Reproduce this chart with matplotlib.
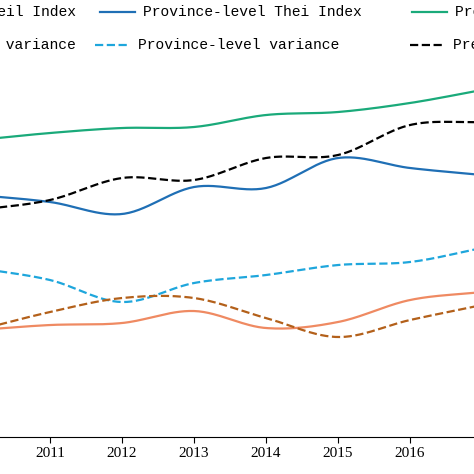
import numpy as np
import matplotlib
matplotlib.use("Agg")
import matplotlib.pyplot as plt
from matplotlib.lines import Line2D

years = [2010, 2011, 2012, 2013, 2014, 2015, 2016, 2017]
tick_years = [2011, 2012, 2013, 2014, 2015, 2016]
green = [2.97, 3.04, 3.09, 3.10, 3.22, 3.25, 3.34, 3.47]
blue = [2.42, 2.35, 2.23, 2.50, 2.49, 2.79, 2.69, 2.62]
black = [2.27, 2.37, 2.59, 2.57, 2.79, 2.82, 3.12, 3.15]
lblue = [1.69, 1.57, 1.35, 1.54, 1.62, 1.72, 1.75, 1.89]
orange = [1.07, 1.12, 1.14, 1.26, 1.09, 1.15, 1.37, 1.45]
brown = [1.07, 1.25, 1.39, 1.39, 1.19, 1.00, 1.17, 1.32]

def smooth(x, y, n=30):
    x = np.asarray(x, float); y = np.asarray(y, float)
    xp = np.concatenate([[2*x[0]-x[1]], x, [2*x[-1]-x[-2]]])
    yp = np.concatenate([[2*y[0]-y[1]], y, [2*y[-1]-y[-2]]])
    xs, ys = [], []
    for i in range(1, len(xp)-2):
        p0, p1, p2, p3 = yp[i-1:i+3]
        t = np.linspace(0, 1, n, endpoint=False)
        ys.append(0.5*((2*p1)+(-p0+p2)*t+(2*p0-5*p1+4*p2-p3)*t**2+(-p0+3*p1-3*p2+p3)*t**3))
        xs.append(xp[i]+(xp[i+1]-xp[i])*t)
    xs.append([x[-1]]); ys.append([y[-1]])
    return np.concatenate(xs), np.concatenate(ys)

fig = plt.figure(figsize=(4.74, 4.74), dpi=100)
ax = fig.add_axes([0, 0.078, 1, 0.922])
series = [
    (green, '#1aaa7a', '-'), (blue, '#1f6fb5', '-'), (black, 'black', '--'),
    (lblue, '#1ea6dc', '--'), (orange, '#ef8a62', '-'), (brown, '#b3601a', '--'),
]
for vals, c, ls in series:
    xs, ys = smooth(years, vals)
    ax.plot(xs, ys, color=c, ls=ls, lw=1.6)
ax.set_xlim(2011 - 50/72, 2011 + 424/72)
ax.set_ylim(0, 4.37)
for s in ['top', 'right', 'left']:
    ax.spines[s].set_visible(False)
ax.set_yticks([])
ax.set_xticks(tick_years)
ax.set_xticklabels([str(y) for y in tick_years], family='Liberation Serif', fontsize=11)
ax.tick_params(axis='x', length=4)

W = 474
def px(x, y):
    return x / W, 1 - y / W
legend_rows = [
    (12, [(-60, 'Regional Theil Index', None, None),
          (100, 'Province-level Thei Index', '#1f6fb5', '-'),
          (412, 'Prefecture-level Theil Index', '#1aaa7a', '-')]),
    (45, [(-60, 'Regional variance', None, None),
          (95, 'Province-level variance', '#1ea6dc', '--'),
          (410, 'Prefecture-level variance', 'black', '--')]),
]
for y, items in legend_rows:
    for x0, label, c, ls in items:
        if c is None:
            fig.text(*px(76, y), label, ha='right', va='center', family='Liberation Mono', fontsize=10.5)
        else:
            fig.add_artist(Line2D([x0/W, (x0+35)/W], [1-y/W, 1-y/W], color=c, ls=ls, lw=1.6))
            fig.text(*px(x0+43, y), label, ha='left', va='center', family='Liberation Mono', fontsize=10.5)

fig.savefig('out.png', dpi=100)
